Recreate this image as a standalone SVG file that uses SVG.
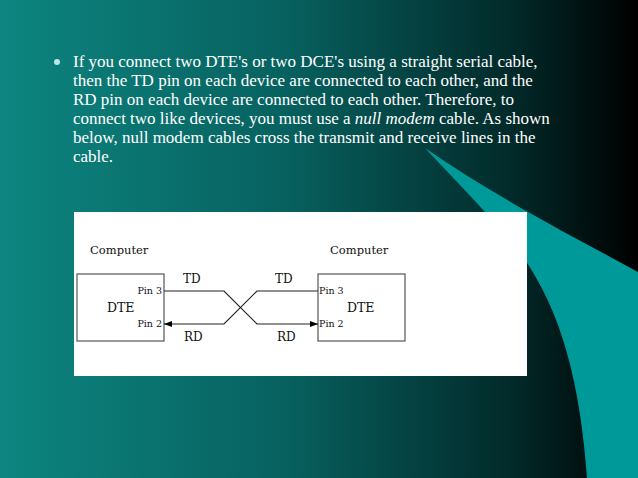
<svg xmlns="http://www.w3.org/2000/svg" width="638" height="478" viewBox="0 0 638 478">
<defs>
<linearGradient id="bg" x1="0" y1="0" x2="1" y2="0">
<stop offset="0" stop-color="#0d8580"/>
<stop offset="0.45" stop-color="#07615f"/>
<stop offset="0.8" stop-color="#022a2a"/>
<stop offset="1" stop-color="#000000"/>
</linearGradient>
<marker id="ar" markerWidth="8" markerHeight="6" refX="8" refY="3" orient="auto" markerUnits="userSpaceOnUse">
<path d="M0,0 L8,3 L0,6 Z" fill="#000"/>
</marker>
<style>
.t{font-family:"Liberation Serif",serif;font-size:17px;fill:#fff}
.d{font-family:"DejaVu Serif","Liberation Serif",serif;fill:#111}
.box{fill:#fff;stroke:#555;stroke-width:1.2}
.w{fill:none;stroke:#222;stroke-width:1.2}
</style>
</defs>
<rect width="638" height="478" fill="url(#bg)"/>
<path d="M425,148 C500,200 580,240 638,272 L638,478 L587,478 C580,380 560,300 510,240 C480,205 450,175 425,148 Z" fill="#00999a"/>
<circle cx="57" cy="62" r="3" fill="#bde6e6"/>
<text class="t" x="73" y="67">If you connect two DTE's or two DCE's using a straight serial cable,</text>
<text class="t" x="73" y="86">then the TD pin on each device are connected to each other, and the</text>
<text class="t" x="73" y="105">RD pin on each device are connected to each other. Therefore, to</text>
<text class="t" x="73" y="124">connect two like devices, you must use a <tspan font-style="italic">null modem</tspan> cable. As shown</text>
<text class="t" x="73" y="143">below, null modem cables cross the transmit and receive lines in the</text>
<text class="t" x="73" y="162">cable.</text>
<rect x="74" y="212" width="453" height="164" fill="#fff"/>
<g id="left">
<text class="d" x="90" y="254" font-size="11.5">Computer</text>
<rect class="box" x="77" y="274" width="87" height="67"/>
<text class="d" x="107" y="312" font-size="12.5">DTE</text>
<text class="d" x="162" y="294" font-size="9.5" text-anchor="end">Pin 3</text>
<text class="d" x="162" y="327" font-size="9.5" text-anchor="end">Pin 2</text>
</g>
<g id="right">
<text class="d" x="330" y="254" font-size="11.5">Computer</text>
<rect class="box" x="318" y="274" width="87" height="67"/>
<text class="d" x="347" y="312" font-size="12.5">DTE</text>
<text class="d" x="319" y="294" font-size="9.5">Pin 3</text>
<text class="d" x="319" y="327" font-size="9.5">Pin 2</text>
</g>
<g id="connectors">
<polyline class="w" points="164,291 224,291 257,324 318,324" marker-end="url(#ar)"/>
<polyline class="w" points="318,291 257,291 224,324 164,324" marker-end="url(#ar)"/>
<text class="d" x="183" y="283" font-size="12">TD</text>
<text class="d" x="275" y="283" font-size="12">TD</text>
<text class="d" x="184" y="341" font-size="12">RD</text>
<text class="d" x="277" y="341" font-size="12">RD</text>
</g>
</svg>
